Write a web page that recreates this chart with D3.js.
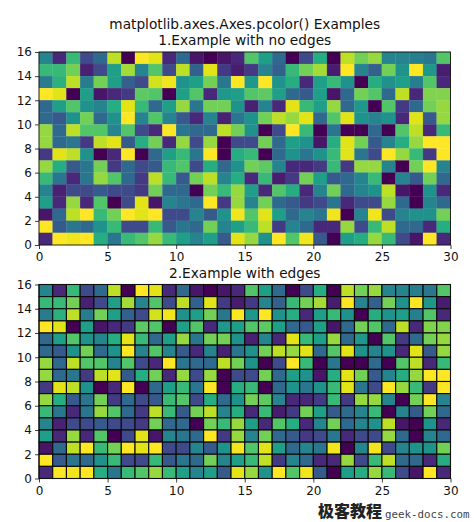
<!DOCTYPE html>
<html><head><meta charset="utf-8">
<script src="https://cdn.jsdelivr.net/npm/d3@7"></script>
<style>html,body{margin:0;padding:0;background:#fff}svg{display:block}
text{font-family:"DejaVu Sans",sans-serif;fill:#111}</style></head>
<body><svg id="c" width="474" height="522"></svg>
<script>
// Cell values on a 0 (dark purple) .. 9 (yellow) scale; first row is the top row (y 15..16)
const row15=[4,1,6,2,3,8,0,9,8.5,1,3,.5,0,.5,1,6.5,5,3,0,2,5.5,0,8,7,7.5,4,4,3.8,3.5,6.5];
const row14=[6,6,7,.8,2,5,7.7,4,6.5,2,8,2.7,8.5,1.5,.7,1.5,4,2.7,6,7,7.7,.7,9,4,2.7,7,4.5,9,4.7,.7];
const row13=[3.7,5.7,8,3.7,7,5,2.7,2,8.3,8.7,4.5,5,7,3.5,9,4.7,9,4.5,5.5,1,5,6,4.5,0,5.5,4.5,5,3.8,6.5,1];
const row12=[9,8.5,0,5,.5,1,1.5,6.7,6.5,0,5,6.5,1,4.7,5,6.5,6.7,5,3,2.5,5,.5,3,7,6.5,3,8,1,7.2,7.2];
const row11=[3,5,6.5,4.5,4,5.5,8.5,6,3,5,7.5,3.5,7,7,4.5,.8,4,1,8.5,6,5,7.5,3,4.7,0,6.5,1.5,3,7,7.5];
const row10=[3,2.5,4.5,7,3,4.5,9,4,6.5,4,2.5,1,4,.8,3.5,4.5,7,8,7.5,8.5,3,6.5,8.5,4.5,4,4.5,1,8.5,2.5,7.5];
const row9=[7.5,3,8,6.5,6.5,4,6.5,2,1,9,3.5,3,3,8,7,4.5,0,2,9,6,0,3.5,0,0,3,0,6.5,8,1,6];
const row8=[7.5,3,3.5,1.5,8,8.5,2.5,5.5,7,1,7.5,2,7.5,0,2,2,7,3,5,4.5,.5,5.5,8.5,7,2.5,4,5.5,7.5,9,9];
const row7=[1.5,8.5,8,4.5,0,1,9,0,3,5,6,3.5,9,0,5.5,6,0,3,4.5,3.5,4.5,6,8.5,3.5,2,9,7.5,6,1.5,9];
const row6=[7.5,5.5,2.5,3.5,7,1.5,3,2,2.5,6,6.5,2,5.5,3,4.5,7,6.7,4,1,1,1.5,6,1.5,7.5,7.5,4,0,7,9,4];
const row5=[6,3.5,1,3.5,7.5,6.5,3,1.5,8,6,2.5,7,8,4,5.5,1,6,.7,1.5,7,5,2.5,3,4,6,0,4,2.5,7,3];
const row4=[4,.8,2,2,2.5,2,2,1.5,7,3,3,0,7,6,7.5,5,1,6.5,5.5,1,4,7,3,4,4.5,8,.5,0,4.5,1];
const row3=[5,1,7.5,1,6.5,0,2,8.5,.5,4,3.5,3,9,1.5,7.5,4,7,3,2.5,1.5,2,3.5,1,2,2,7.5,3,0,4,3];
const row2=[.5,3,8,9,6,7,9,8.5,9,2,2,4,2.5,4.5,8.7,6.5,8.5,5,3,4,3.5,8.7,0,4,8.7,2,4,4.5,4.5,7];
const row1=[9,2.5,3.5,3,4.5,6,2,2,6,2.5,3.5,3,7,4,5,6,8,1.5,4,3,1,1,7.5,2,6,8,3,3,1,5.5];
const row0=[1,9,8.7,9,5.5,3.5,6,6.5,7.5,6,5,4,5,2.5,8.5,7.5,4.5,9,6.5,8.7,2.5,0,5,5.5,7.5,6,2,.5,9,1];
const rows=[row15,row14,row13,row12,row11,row10,row9,row8,row7,row6,row5,row4,row3,row2,row1,row0];
const xTicks=[0,5,10,15,20,25,30];
const yTicks=[0,2,4,6,8,10,12,14,16];
const titleLine1="matplotlib.axes.Axes.pcolor() Examples";
const titleLine2="1.Example with no edges";
const title2="2.Example with edges";
const watermarkCn="极客教程";
const watermarkEn="geek-docs.com";

const svg=d3.select("#c");
const color=d3.scaleSequential(d3.interpolateViridis).domain([0,8.9]).clamp(true);
const x=d3.scaleLinear().domain([0,30]).range([39,450.5]);

function panel(top,bottom,edges){
  const y=d3.scaleLinear().domain([0,16]).range([bottom,top]);
  const g=svg.append("g");
  rows.forEach((r,i)=>{
    const yv=15-i;
    g.selectAll(null).data(r).enter().append("rect")
      .attr("x",(d,j)=>x(j)).attr("width",(d,j)=>x(j+1)-x(j))
      .attr("y",y(yv+1)).attr("height",y(yv)-y(yv+1))
      .attr("fill",d=>color(d))
      .attr("stroke",edges?"#0a0a0a":d=>color(d))
      .attr("stroke-width",edges?1.1:.3);
  });
  const ax=svg.append("g").attr("transform",`translate(0,${bottom})`)
    .call(d3.axisBottom(x).tickValues(xTicks).tickFormat(d3.format("d")).tickSize(4).tickPadding(3.5));
  const ay=svg.append("g").attr("transform","translate(39,0)")
    .call(d3.axisLeft(y).tickValues(yTicks).tickFormat(d3.format("d")).tickSize(4).tickPadding(3));
  [ax,ay].forEach(a=>{
    a.selectAll("text").style("font-size","12px").style("font-family",'"DejaVu Sans",sans-serif').attr("fill","#111");
    a.selectAll("line").attr("stroke","#111").attr("stroke-width",.8);
    a.select(".domain").remove();
  });
  svg.append("rect").attr("x",x(0)).attr("y",top).attr("width",x(30)-x(0)).attr("height",bottom-top)
    .attr("fill","none").attr("stroke","#111").attr("stroke-width",.9);
}
panel(52,245,false);
panel(284.5,478.5,true);

const cx=(x(0)+x(30))/2;
const head=svg.append("text").attr("text-anchor","middle").style("font-size","13.7px");
head.append("tspan").attr("x",cx).attr("y",29.2).text(titleLine1);
head.append("tspan").attr("x",cx).attr("y",45.2).text(titleLine2);
svg.append("text").attr("x",cx).attr("y",277.5).attr("text-anchor","middle").style("font-size","13.7px").text(title2);
svg.append("text").attr("x",318).attr("y",517.3).style("font-family",'"Noto Sans CJK SC"').style("font-weight",900).style("font-size","16px").style("fill","#222").text(watermarkCn);
svg.append("text").attr("x",385).attr("y",518).style("font-family",'"DejaVu Sans Mono",monospace').style("font-size","10.8px").style("fill","#444").text(watermarkEn);
</script></body></html>
